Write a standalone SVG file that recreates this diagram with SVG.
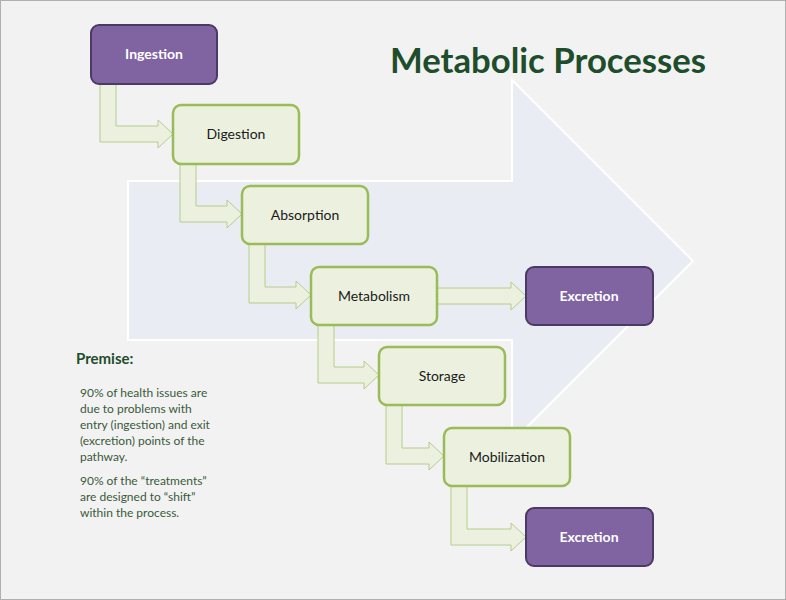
<svg xmlns="http://www.w3.org/2000/svg" width="786" height="600" viewBox="0 0 786 600">
<style>
.g{fill:#ebf1de;stroke:#9bbb59;stroke-width:2.5}
.p{fill:#8064a2;stroke:#4b3a63;stroke-width:2}
.a{fill:#ebf1de;stroke:#b6cc8e;stroke-width:1}
text{font-family:Lato,"Open Sans",sans-serif;text-anchor:middle}
.tg{font-size:14px;fill:#1a1a1a}
.tp{font-size:14px;fill:#fff;font-weight:bold}
.b{font-size:12px;fill:#3a5a3a;text-anchor:start}
</style>
<rect x="0.5" y="0.5" width="785" height="599" fill="#f2f2f2" stroke="#b0b0b0"/>
<path d="M128,181 L512,181 L512,80 L693,261 L512,442 L512,340 L128,340 Z" fill="#e9edf3" stroke="#ffffff" stroke-width="2"/>
<text x="548" y="73" style="font-size:34px;font-weight:bold;fill:#1e4d2b" textLength="316" lengthAdjust="spacingAndGlyphs">Metabolic Processes</text>
<g id="connectors">
<path class="a" d="M100,84 L116,84 L116,126 L158,126 L158,120 L173,134 L158,148 L158,142 L100,142 Z"/>
<path class="a" d="M180,164 L196,164 L196,206 L227,206 L227,200 L242,214 L227,228 L227,222 L180,222 Z"/>
<path class="a" d="M249,244 L265,244 L265,287 L296,287 L296,281 L311,295 L296,309 L296,303 L249,303 Z"/>
<path class="a" d="M318,325 L334,325 L334,367 L364,367 L364,361 L379,375 L364,389 L364,383 L318,383 Z"/>
<path class="a" d="M386,405 L402,405 L402,448 L429,448 L429,442 L444,456 L429,470 L429,464 L386,464 Z"/>
<path class="a" d="M451,486 L467,486 L467,529 L511,529 L511,523 L526,537 L511,551 L511,545 L451,545 Z"/>
<path class="a" d="M437,288 L511,288 L511,282 L526,296 L511,310 L511,304 L437,304 Z"/>
</g>
<g id="ingestion"><rect class="p" x="91" y="25" width="126" height="59" rx="8"/><text class="tp" x="154" y="59">Ingestion</text></g>
<g id="digestion"><rect class="g" x="173" y="105" width="126" height="59" rx="8"/><text class="tg" x="236" y="139">Digestion</text></g>
<g id="absorption"><rect class="g" x="242" y="186" width="126" height="58" rx="8"/><text class="tg" x="305" y="220">Absorption</text></g>
<g id="metabolism"><rect class="g" x="311" y="267" width="126" height="58" rx="8"/><text class="tg" x="374" y="301">Metabolism</text></g>
<g id="storage"><rect class="g" x="379" y="347" width="126" height="58" rx="8"/><text class="tg" x="442" y="381">Storage</text></g>
<g id="mobilization"><rect class="g" x="444" y="428" width="126" height="58" rx="8"/><text class="tg" x="507" y="462">Mobilization</text></g>
<g id="excretion1"><rect class="p" x="526" y="267" width="127" height="58" rx="8"/><text class="tp" x="589" y="301">Excretion</text></g>
<g id="excretion2"><rect class="p" x="526" y="508" width="127" height="58" rx="8"/><text class="tp" x="589" y="542">Excretion</text></g>
<g id="premise">
<text x="76" y="364" style="font-size:15px;font-weight:bold;fill:#1e4d2b;text-anchor:start">Premise:</text>
<text class="b" x="80" y="397">90% of health issues are</text>
<text class="b" x="80" y="413">due to problems with</text>
<text class="b" x="80" y="429">entry (ingestion) and exit</text>
<text class="b" x="80" y="445">(excretion) points of the</text>
<text class="b" x="80" y="461">pathway.</text>
<text class="b" x="80" y="485">90% of the “treatments”</text>
<text class="b" x="80" y="501">are designed to “shift”</text>
<text class="b" x="80" y="517">within the process.</text>
</g>
</svg>
